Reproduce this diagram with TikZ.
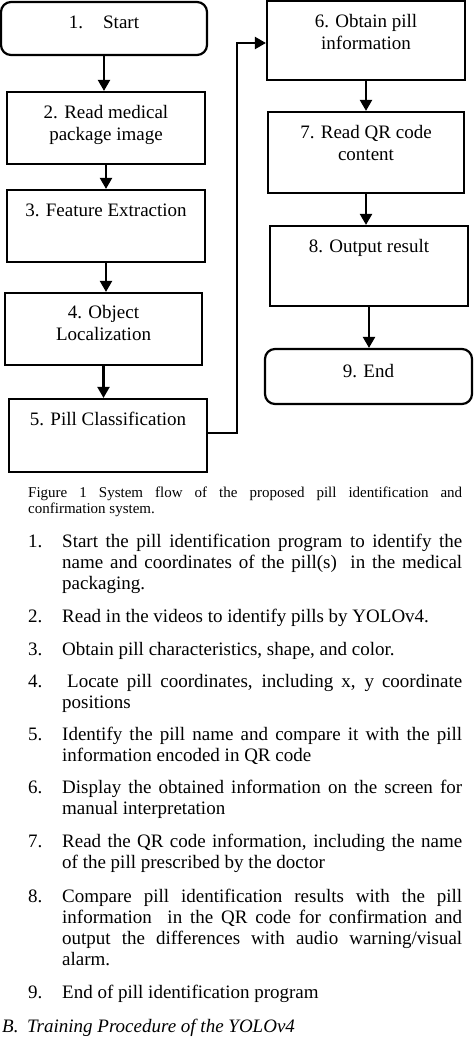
\documentclass[tikz,border=0pt]{standalone}
\usepackage{fontspec}
\setmainfont{Liberation Serif}
\usetikzlibrary{arrows.meta}
\newcommand{\bxt}[4]{\parbox[c][#1][t]{#2}{\centering\rule{0pt}{#3}#4}}
\tikzset{
  box/.style={draw, line width=2.2pt, inner sep=0pt, font=\fontsize{19}{22.5}\selectfont},
  rbox/.style={box, rounded corners=10pt},
  arr/.style={line width=2.2pt, -{Triangle[length=11pt,width=12pt]}},
  num/.style={anchor=base west, inner sep=0pt, font=\fontsize{19}{21.3}\selectfont},
  item/.style={anchor=base west, inner sep=0pt, text width=400pt, align=justify, font=\fontsize{19}{21.3}\selectfont},
  captext/.style={anchor=base west, inner sep=0pt, text width=434pt, align=justify, font=\fontsize{15}{16.5}\selectfont},
}
\begin{document}
\begin{tikzpicture}[x=1pt,y=-1pt]
\useasboundingbox (0,0) rectangle (474,1047);
% left column
\node[rbox] (b1) at (104,28.5) {\bxt{53pt}{206pt}{26pt}{1.\hspace{20pt}Start}};
\node[box] (b2) at (106,128) {\bxt{72pt}{198pt}{26pt}{2. Read medical\\package image}};
\node[box] (b3) at (106,226) {\bxt{72pt}{198pt}{26pt}{3. Feature Extraction}};
\node[box] (b4) at (103.5,329) {\bxt{72pt}{197pt}{25pt}{4. Object\\Localization}};
\node[box] (b5) at (108,435.5) {\bxt{73pt}{198pt}{26pt}{5. Pill Classification}};
% right column
\node[box] (b6) at (366,40.5) {\bxt{79pt}{198pt}{26pt}{6. Obtain pill\\information}};
\node[box] (b7) at (366,152.5) {\bxt{81pt}{196pt}{26pt}{7. Read QR code\\content}};
\node[box] (b8) at (369,266) {\bxt{80pt}{198pt}{26pt}{8. Output result}};
\node[rbox] (b9) at (368.5,376.5) {\bxt{55pt}{207pt}{28pt}{9. End}};
% connectors
\draw[arr] (b1.south) -- (b1.south |- b2.north);
\draw[arr] (b2.south) -- (b2.south |- b3.north);
\draw[arr] (b3.south) -- (b3.south |- b4.north);
\draw[arr] (b4.south) -- (b4.south |- b5.north);
\draw[arr] (b6.south) -- (b6.south |- b7.north);
\draw[arr] (b7.south) -- (b7.south |- b8.north);
\draw[arr] (b8.south) -- (b8.south |- b9.north);
\coordinate (k) at (237,433);
\draw[arr] ([yshift=2.5pt]b5.east) -- (k) |- ([yshift=-2.5pt]b6.west);
% caption
\node[captext] (fig) at (28,497) {Figure 1 System flow of the proposed pill identification and\linebreak confirmation system.};
% list
\node[num] (n1) at (28,547) {1.};
\node[item] (i1) at (62,547) {Start the pill identification program to identify the\linebreak name and coordinates of the pill(s)\ \ in the medical\linebreak packaging.};
\node[num] (n2) at (28,622) {2.};
\node[item] (i2) at (62,622) {Read in the videos to identify pills by YOLOv4.};
\node[num] (n3) at (28,655) {3.};
\node[item] (i3) at (62,655) {Obtain pill characteristics, shape, and color.};
\node[num] (n4) at (28,687) {4.};
\node[item] (i4) at (62,687) {\hspace{5pt}Locate pill coordinates, including x, y coordinate\linebreak positions};
\node[num] (n5) at (28,740) {5.};
\node[item] (i5) at (62,740) {Identify the pill name and compare it with the pill\linebreak information encoded in QR code};
\node[num] (n6) at (28,793) {6.};
\node[item] (i6) at (62,793) {Display the obtained information on the screen for\linebreak manual interpretation};
\node[num] (n7) at (28,847) {7.};
\node[item] (i7) at (62,847) {Read the QR code information, including the name\linebreak of the pill prescribed by the doctor};
\node[num] (n8) at (28,902) {8.};
\node[item] (i8) at (62,902) {Compare pill identification results with the pill\linebreak information\ \ in the QR code for confirmation and\linebreak output the differences with audio warning/visual\linebreak alarm.};
\node[num] (n9) at (28,998) {9.};
\node[item] (i9) at (62,998) {End of pill identification program};
\node[num] (hb) at (2,1032) {\itshape B.};
\node[num] (ht) at (27,1032) {\itshape Training Procedure of the YOLOv4};
\end{tikzpicture}
\end{document}
